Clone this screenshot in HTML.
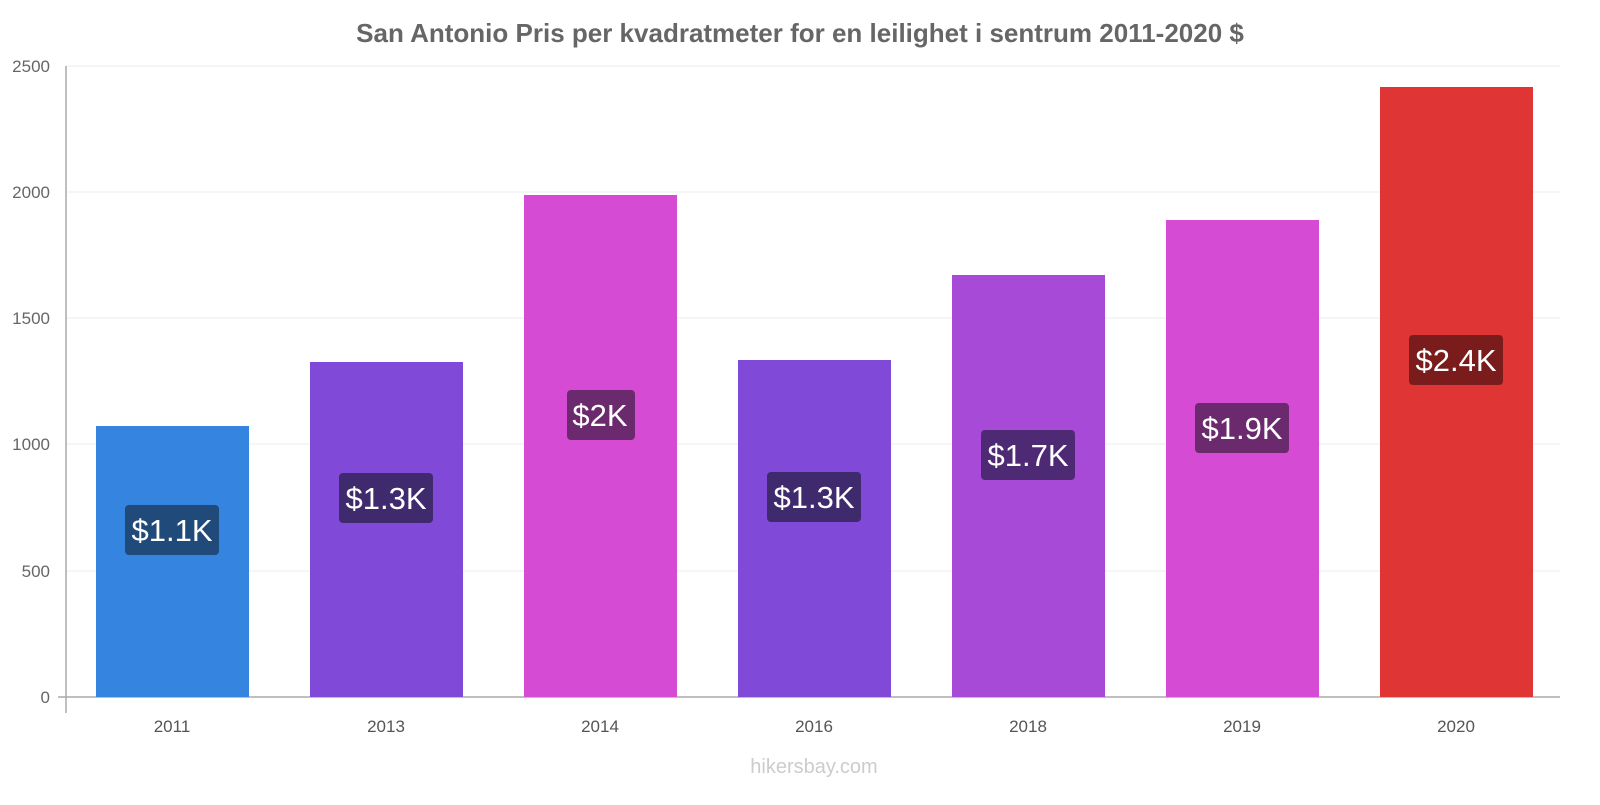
<!DOCTYPE html>
<html><head><style>
body{margin:0;background:#fff;width:1600px;height:800px;overflow:hidden;font-family:"Liberation Sans",sans-serif;}
</style></head><body>
<svg width="1600" height="800" xmlns="http://www.w3.org/2000/svg" font-family="Liberation Sans, sans-serif">
<text x="800" y="42" text-anchor="middle" font-size="26" font-weight="bold" fill="#666">San Antonio Pris per kvadratmeter for en leilighet i sentrum 2011-2020 $</text>
<g stroke="#eee" stroke-width="1">
<line x1="66" y1="66" x2="1560" y2="66"/><line x1="66" y1="192" x2="1560" y2="192"/><line x1="66" y1="318" x2="1560" y2="318"/><line x1="66" y1="444" x2="1560" y2="444"/><line x1="66" y1="571" x2="1560" y2="571"/>
</g>
<line x1="66" y1="66" x2="66" y2="713" stroke="#aaa" stroke-width="1.5"/>
<line x1="58" y1="697" x2="1560" y2="697" stroke="#aaa" stroke-width="1.5"/>
<g font-size="17" fill="#666" text-anchor="end">
<text x="50" y="72">2500</text><text x="50" y="198">2000</text><text x="50" y="324">1500</text><text x="50" y="450">1000</text><text x="50" y="577">500</text><text x="50" y="703">0</text>
</g>
<g font-size="17" fill="#555" text-anchor="middle">
<text x="172" y="732">2011</text><text x="386" y="732">2013</text><text x="600" y="732">2014</text><text x="814" y="732">2016</text><text x="1028" y="732">2018</text><text x="1242" y="732">2019</text><text x="1456" y="732">2020</text>
</g>
<rect x="96" y="426" width="153" height="271" fill="#3584e0"/>
<rect x="310" y="362" width="153" height="335" fill="#8149d8"/>
<rect x="524" y="195" width="153" height="502" fill="#d64bd4"/>
<rect x="738" y="360" width="153" height="337" fill="#8149d8"/>
<rect x="952" y="275" width="153" height="422" fill="#a84ad8"/>
<rect x="1166" y="220" width="153" height="477" fill="#d64bd4"/>
<rect x="1380" y="87" width="153" height="610" fill="#e03535"/>
<g font-size="31" fill="#fff" text-anchor="middle">
<rect x="125" y="505" width="94" height="50" rx="4" fill="#1f4a7a"/><text x="172" y="541">$1.1K</text>
<rect x="339" y="473" width="94" height="50" rx="4" fill="#3f2a6e"/><text x="386" y="509">$1.3K</text>
<rect x="567" y="390" width="68" height="50" rx="4" fill="#6b2a6e"/><text x="600" y="426">$2K</text>
<rect x="767" y="472" width="94" height="50" rx="4" fill="#3f2a6e"/><text x="814" y="508">$1.3K</text>
<rect x="981" y="430" width="94" height="50" rx="4" fill="#4e2a74"/><text x="1028" y="466">$1.7K</text>
<rect x="1195" y="403" width="94" height="50" rx="4" fill="#6b2a6e"/><text x="1242" y="439">$1.9K</text>
<rect x="1409" y="335" width="94" height="50" rx="4" fill="#7a1c1c"/><text x="1456" y="371">$2.4K</text>
</g>
<text x="814" y="773" text-anchor="middle" font-size="20" fill="#ccc">hikersbay.com</text>
</svg>
</body></html>
